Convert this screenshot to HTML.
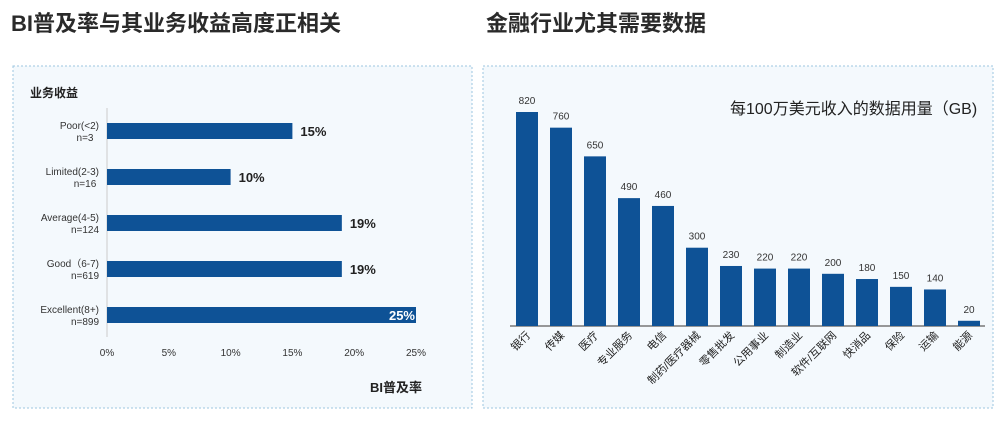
<!DOCTYPE html>
<html><head><meta charset="utf-8"><style>
body{margin:0;width:1000px;height:419px;background:#fff;overflow:hidden;font-family:"Liberation Sans","Noto Sans CJK SC",sans-serif;}
svg text{font-family:"Liberation Sans","Noto Sans CJK SC",sans-serif;}
</style></head><body>
<svg id="c" width="1000" height="419">
<text x="11" y="31" font-size="22" font-weight="bold" fill="#2a2a2a">BI普及率与其业务收益高度正相关</text>
<text x="486" y="31" font-size="22" font-weight="bold" fill="#2a2a2a">金融行业尤其需要数据</text>
<rect x="13" y="66" width="459" height="342" fill="#f4f9fd" stroke="#9cc6e0" stroke-dasharray="2,2"/>
<rect x="483" y="66" width="510" height="342" fill="#f4f9fd" stroke="#9cc6e0" stroke-dasharray="2,2"/>
<text x="30" y="97" font-size="12" font-weight="bold" fill="#222">业务收益</text>
<text x="370" y="392" font-size="13" font-weight="bold" fill="#222">BI普及率</text>
<line x1="107" y1="108" x2="107" y2="337" stroke="#ccc"/>
<text x="730" y="114" font-size="16" fill="#222">每100万美元收入的数据用量（GB)</text>
<line x1="510" y1="326" x2="985" y2="326" stroke="#777" stroke-width="1.5"/>
</svg>
<script>
const hCats=["Poor(<2)","Limited(2-3)","Average(4-5)","Good（6-7)","Excellent(8+)"];
const hN=["n=3","n=16","n=124","n=619","n=899"];
const hVals=[15,10,19,19,25];
const hTicks=[0,5,10,15,20,25];
const vCats=["银行","传媒","医疗","专业服务","电信","制药/医疗器械","零售批发","公用事业","制造业","软件/互联网","快消品","保险","运输","能源"];
const vVals=[820,760,650,490,460,300,230,220,220,200,180,150,140,20];

const svg=document.getElementById('c');
const NS="http://www.w3.org/2000/svg";
function mk(t,a,txt){const e=document.createElementNS(NS,t);for(const k in a)e.setAttribute(k,a[k]);if(txt!=null)e.textContent=txt;svg.appendChild(e);return e;}
const hx=v=>107+v*(416-107)/25;
const hy=i=>131+i*46;
hTicks.forEach(t=>{
 const e=mk('text',{x:hx(t),y:356,'font-size':10,'text-anchor':'middle',fill:'#333'},t+'%');
 
 
});
hCats.forEach((c,i)=>{
 const y=hy(i);
 const b=mk('rect',{x:107,y:y-8,width:hx(hVals[i])-107,height:16,fill:'#0e5296'});
 
 
 const l=mk('text',{x:99,y:y-2,'font-size':10,'text-anchor':'end',fill:'#333'},c);
 
 
 const n=mk('text',{x:85,y:y+10,'font-size':10,'text-anchor':'middle',fill:'#333'},hN[i]);
 
 
 const inside=hVals[i]>=25;
 const v=mk('text',{x:inside?hx(hVals[i])-1:hx(hVals[i])+8,y:y+5,'font-size':13,'font-weight':'bold','text-anchor':inside?'end':'start',fill:inside?'#fff':'#222'},hVals[i]+'%');
 
 
});
const base=326, k=(326-112)/820;
const vx=i=>527+i*34;
vCats.forEach((c,i)=>{
 const h=vVals[i]*k, cx=vx(i);
 const b=mk('rect',{x:cx-11,y:base-h,width:22,height:h,fill:'#0e5296'});
 
 
 const v=mk('text',{x:cx,y:base-h-8,'font-size':10,'text-anchor':'middle',fill:'#333'},vVals[i]);
 
 
 const l=mk('text',{x:cx+4,y:336,'font-size':11,'text-anchor':'end',fill:'#222',transform:`rotate(-45 ${cx+4} 336)`},c);
 
 
});
</script>
</body></html>
